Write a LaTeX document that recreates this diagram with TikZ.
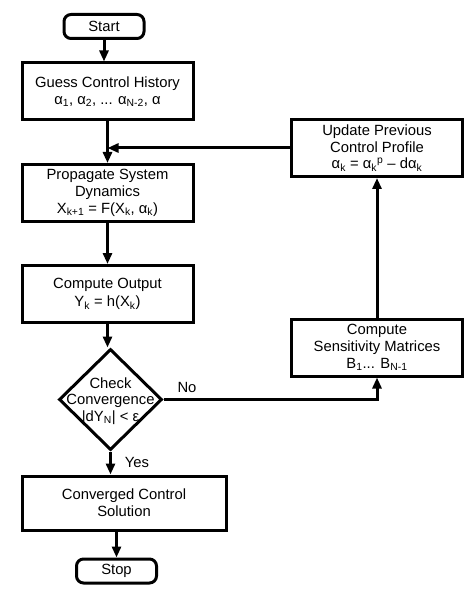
\documentclass[tikz,border=0pt]{standalone}
\usepackage{fontspec}
\setmainfont{Liberation Sans}
\usepackage{tikz}
\usetikzlibrary{arrows.meta,shapes.geometric,calc}
\tikzstyle{box}   =[rectangle, draw, line width=3pt,
                    minimum width=171pt, minimum height=57pt,
                    inner sep=0pt, align=center,
                    font=\fontsize{14.8}{16.7}\selectfont]
\tikzstyle{term}  =[rectangle, draw, rounded corners=7pt, line width=3pt,
                    minimum width=80pt, minimum height=24pt,
                    inner sep=0pt, font=\fontsize{14.8}{16.7}\selectfont]
\tikzstyle{decision}=[diamond, draw, line width=3pt,
                    minimum width=103pt, minimum height=101pt,
                    inner sep=0pt]
\tikzstyle{txt}   =[align=center, inner sep=0pt,
                    font=\fontsize{14.8}{16.7}\selectfont]
\tikzstyle{flow}  =[->, >={Triangle[length=11pt,width=9pt]},
                    line width=3pt]

\begin{document}
\begin{tikzpicture}[x=1pt,y=-1pt]
    \useasboundingbox (0,0) rectangle (474,593);

            \node (start)[term] at (104,26.5) {Start};
            \node (guess)[box] at (107.5,91.5)
                {Guess Control History\\
                 α\textsubscript{1}, α\textsubscript{2}, ... α\textsubscript{N-2}, α};
            \node (prop)[box] at (107.5,193)
                {Propagate System\\Dynamics\\
                 X\textsubscript{k+1} = F(X\textsubscript{k}, α\textsubscript{k})};
            \node (out)[box] at (107.5,294)
                {Compute Output\\[2pt] Y\textsubscript{k} = h(X\textsubscript{k})};
            \node (chk)[decision] at (110.5,399.5) {};
            \node (chktxt)[txt] at (110.5,401)
                {Check\\Convergence\\|dY\textsubscript{N}| < ε};
            \node (conv)[box, minimum width=204pt, minimum height=54pt] at (124,503)
                {Converged Control\\Solution};
            \node (stop)[term] at (116.5,571) {Stop};

            \node (sens)[box] at (377,347.5)
                {Compute\\Sensitivity Matrices\\
                 B\textsubscript{1}... B\textsubscript{N-1}};
            \node (upd)[box] at (377,148)
                {Update Previous\\Control Profile\\
                 α\textsubscript{k} = α\textsubscript{k}\textsuperscript{p} – dα\textsubscript{k}};

            \coordinate (j) at (guess.south |- upd.west);

            \draw [flow] (start) -- (start |- guess.north);
            \foreach \a/\b in {guess/prop,prop/out,out/chk,chk/conv}
                \draw [flow] (\a.south) -- (\a.south |- \b.north);
            \draw [flow] (stop.north |- conv.south) -- (stop.north);

            \draw [flow] (chk.east) -| (sens.south)
                node[txt, pos=0.055, above=5pt] {No};
            \draw [flow] (sens.north) -- (upd.south);
            \draw [flow] (upd.west) -- (j);

            \node (yes)[txt] at (137,462) {Yes};

\end{tikzpicture}
\end{document}
